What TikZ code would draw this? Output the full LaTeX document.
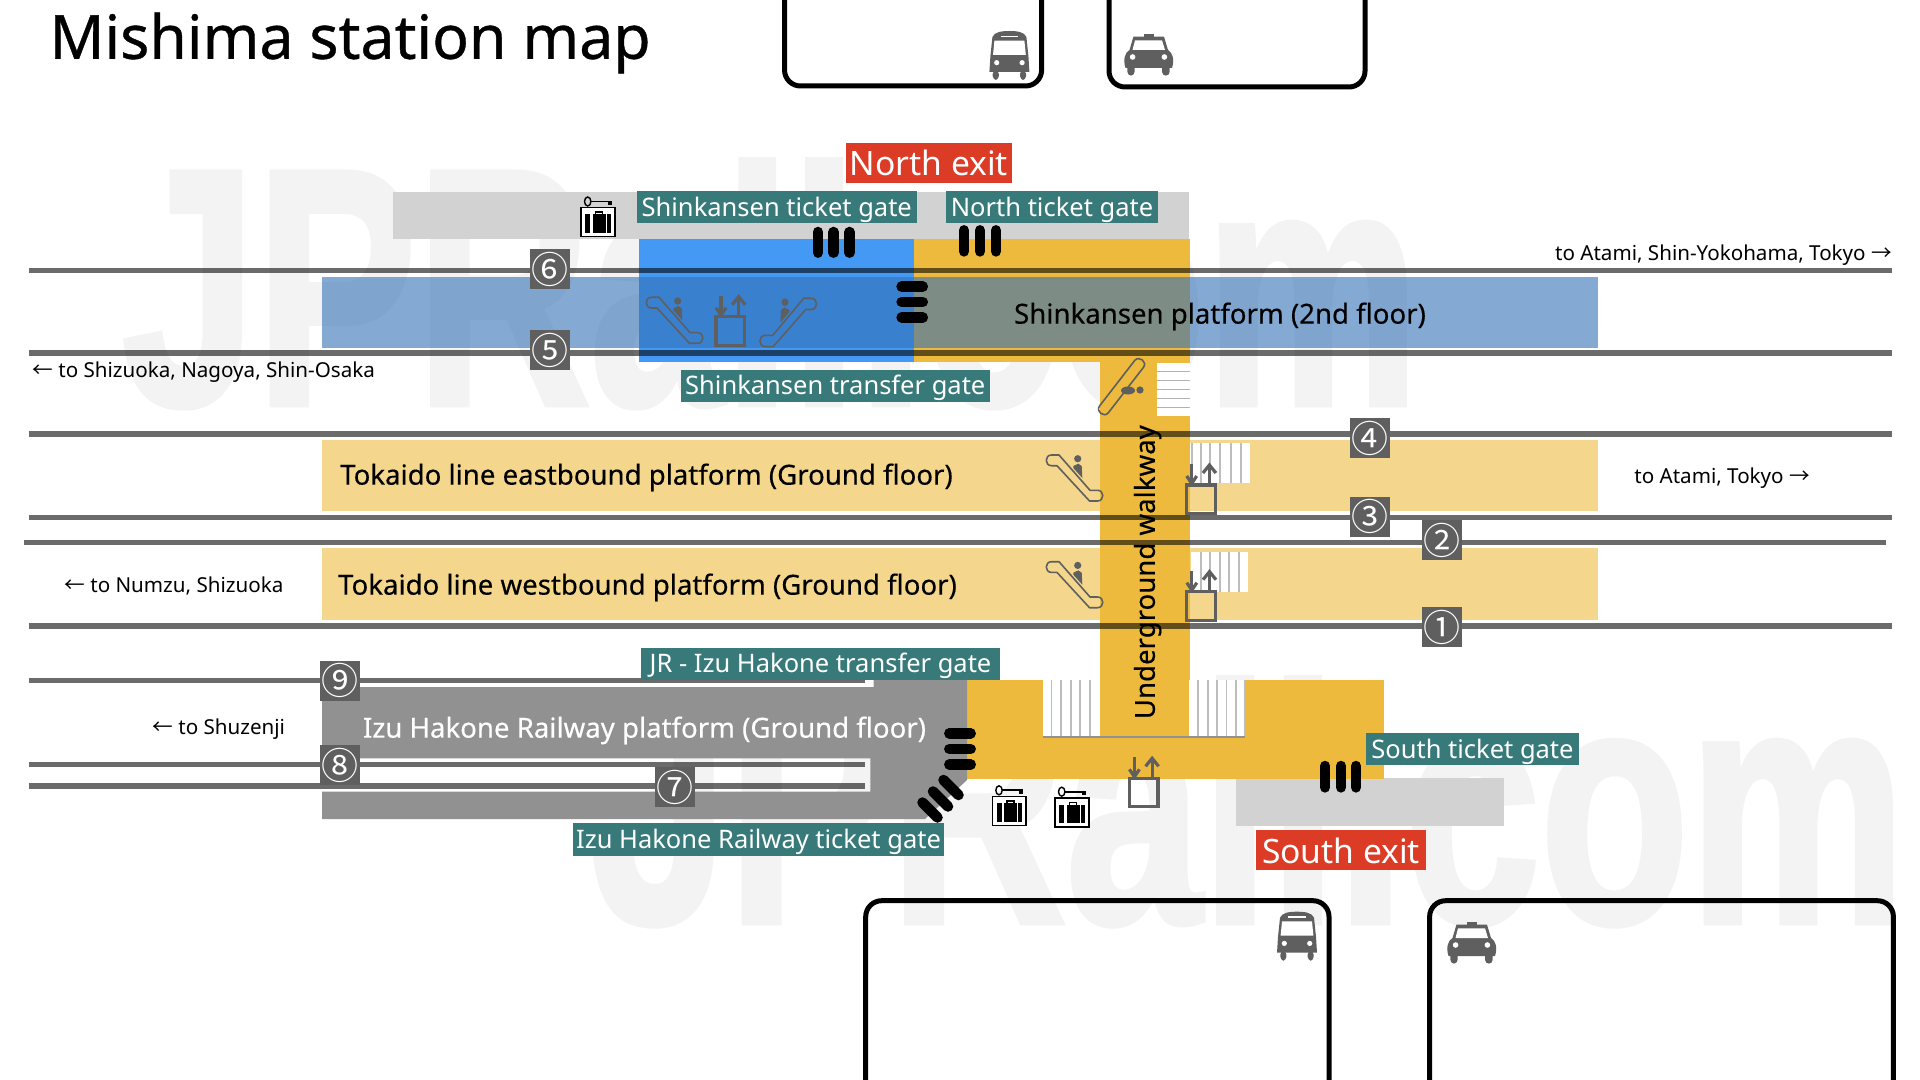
\documentclass[tikz,border=0pt]{standalone}
\usepackage{fontspec}
\setmainfont{Noto Sans}
\newfontfamily\medfont{Noto Sans}[FakeBold=0.35]
\newfontfamily\titlefont{Noto Sans}[FakeBold=0.6]
\newfontfamily\cjk{Noto Sans CJK JP}
\newfontfamily\wmfont{Liberation Sans Bold}[FakeBold=2]
\definecolor{tealc}{HTML}{38797A}
\definecolor{redc}{HTML}{DC3B26}
\definecolor{icon}{HTML}{5F5F5F}
\definecolor{concb}{HTML}{4499F5}
\definecolor{conco}{HTML}{EEBA3D}
\definecolor{platy}{HTML}{F4D78C}
\definecolor{platb}{HTML}{3270B6}
\definecolor{izu}{HTML}{919191}
\definecolor{hall}{HTML}{D2D2D2}
\definecolor{wm}{HTML}{F3F3F3}
\tikzset{
  track/.style={draw=black,draw opacity=.58,line width=2.6pt},
  badge/.style={fill=icon,text=white,minimum size=20pt,inner sep=0,font=\cjk\fontsize{18.5}{18.5}\selectfont},
  tagtext/.style={text=white,inner sep=0,yshift=-1.2pt,font=\fontsize{12.75}{14}\selectfont},
  exittext/.style={text=white,inner sep=0,yshift=-.3pt,font=\fontsize{16.8}{18}\selectfont},
  plat/.style={text=black,inner sep=0,yshift=-1.2pt,font=\medfont\fontsize{13.8}{15}\selectfont},
  note/.style={text=black,inner sep=0,yshift=-1pt,font=\fontsize{10.3}{12}\selectfont},
  gate/.style={line width=5.25pt,line cap=round,black},
  iconline/.style={draw=icon,line width=.8pt,line join=round},
  liftline/.style={draw=icon,line width=1.6pt},
  stairv/.style={draw=hall!90!black,line width=.75pt},
  stairh/.style={draw=black!30,line width=.5pt},
  roundbox/.style={draw=black,line width=2.5pt,rounded corners=8pt},
  wmark/.style={anchor=base west,inner sep=0,text=wm,font=\wmfont\fontsize{168}{170}\selectfont},
}
\newcommand{\myescal}[3]{\begin{scope}[shift={(#1,#2)},#3]
  \draw[iconline] (5.5,0) -- (13,0) -- (44,35.3) -- (51.5,35.3)
    .. controls (58.5,35.3) and (58.5,46) .. (51.5,46) -- (43.5,46) -- (11,10.7) -- (5.5,10.7)
    .. controls (-1.5,10.7) and (-1.5,0) .. (5.5,0) -- cycle;
  \fill[icon] (31.7,3.7) circle[radius=3.6];
  \fill[icon] (27.3,11) -- (32.3,8.7) -- (35.7,11) -- (36.3,23) -- (27.3,13) -- cycle;
\end{scope}}
\newcommand{\mylift}[2]{\begin{scope}[shift={(#1,#2)}]
  \draw[liftline] (0,0) rectangle (28.5,28.5);
  \draw[liftline] (5,-21) -- (5,-2);
  \draw[liftline,line join=miter] (0,-9) -- (5,-1.5) -- (10,-9);
  \draw[liftline] (22.7,0) -- (22.7,-19);
  \draw[liftline,line join=miter] (16.2,-12) -- (22.7,-20) -- (29.2,-12);
\end{scope}}
\newcommand{\mylocker}[2]{\begin{scope}[shift={(#1,#2)}]
  \draw[black,line width=.8pt,fill=white] (0,0) rectangle (33.7,29);
  \fill[black] (4.3,7) rectangle (9.4,25.7);
  \fill[black] (11.5,7) rectangle (24.6,25.7);
  \fill[black] (26,7) rectangle (30,25.7);
  \draw[black,line width=.7pt] (14.5,7) -- (14.5,4.7) -- (21.5,4.7) -- (21.5,7);
  \draw[black,line width=.7pt] (6.7,-6) ellipse[x radius=3.2,y radius=4.5];
  \draw[black,line width=.9pt] (10,-6) -- (31,-6);
  \fill[black] (27,-6) rectangle (31,-2.5);
\end{scope}}
\newcommand{\mybus}[2]{\begin{scope}[shift={(#1,#2)}]
  \fill[icon] (3,6) .. controls (5,1) and (12,0) .. (20,0) .. controls (28,0) and (35,1) .. (37,6)
    -- (39,25) -- (40,41) -- (0,41) -- (1,25) -- cycle;
  \fill[icon,rounded corners=2pt] (3.3,39) rectangle (9.4,49);
  \fill[icon,rounded corners=2pt] (30.6,39) rectangle (36.7,49);
  \fill[white] (5,9.7) -- (35,9.7) -- (36.4,24) -- (3.6,24) -- cycle;
  \fill[white] (11.4,4.7) rectangle (29,6.5);
  \fill[white] (7.3,31.7) circle[radius=2.6];
  \fill[white] (32.7,31.7) circle[radius=2.6];
\end{scope}}
\newcommand{\mytaxi}[2]{\begin{scope}[shift={(#1,#2)}]
  \fill[icon] (19.6,0) rectangle (29.8,3);
  \fill[icon] (9.4,2.7) -- (40,2.7) -- (44,16) .. controls (49,19) and (50.5,26) .. (48,34)
     -- (1.5,34) .. controls (-1,26) and (0.5,19) .. (5.5,16) -- cycle;
  \fill[icon,rounded corners=2pt] (3.3,30) rectangle (10.6,41.7);
  \fill[icon,rounded corners=2pt] (38,30) rectangle (45.7,41.7);
  \fill[white] (11,6.3) -- (38,6.3) -- (41,16) -- (8.5,16) -- cycle;
  \fill[white] (8.6,23) circle[radius=2.8];
  \fill[white] (40.4,23) circle[radius=2.8];
\end{scope}}
\begin{document}
\begin{tikzpicture}[x=0.5pt,y=-0.5pt]
\clip (0,0) rectangle (1920,1080);
\fill[white] (0,0) rectangle (1920,1080);
% watermarks
\node[wmark,xscale=.716] (wmtop) at (122,404) {JPRail.com};
\node[wmark,xscale=.725] (wmbot) at (592,922) {JPRail.com};
% road boxes
\draw[roundbox] (784.5,-30) rectangle (1041.6,86);
\draw[roundbox] (1109,-30) rectangle (1365,87);
\draw[roundbox] (865.7,900.7) rectangle (1329,1130);
\draw[roundbox] (1429.6,900.7) rectangle (1893.4,1130);
\mybus{989.4}{31}
\mytaxi{1124}{34}
\mybus{1277}{911.7}
\mytaxi{1447}{922}
% halls
\fill[hall] (393,192) rectangle (1189,239);
\fill[hall] (1236,777.7) rectangle (1504,825.7);
% platforms (ground)
\fill[platy] (322,440) rectangle (1598,511.3);
\fill[platy] (322,548) rectangle (1598,620);
% concourses
\fill[concb] (639,239) rectangle (914,361.7);
\fill[conco] (914,239) rectangle (1190,361.7);
\fill[conco] (1100,361) rectangle (1190,680);
\fill[conco] (967,679.5) rectangle (1384,779);
% Izu platform
\fill[izu] (322,687) -- (873.5,687) -- (873.5,679.5) -- (967,679.5) -- (967,780) -- (925,819) -- (322,819)
   -- (322,791.7) -- (870.4,791.7) -- (870.4,758.3) -- (322,758.3) -- cycle;
% stairs
\fill[white] (1157,362.7) rectangle (1190,416);
\foreach \y in {371.3,380.3,389.3,398.3,407.3} \draw[stairh] (1157,\y) -- (1190,\y);
\fill[white] (1190,443) rectangle (1250,482.7);
\foreach \x in {1192,1201,1210,1220,1231,1241} \draw[stairv] (\x,443) -- (\x,482.7);
\fill[white] (1191,552) rectangle (1248,591.7);
\foreach \x in {1201,1210,1220,1229,1239} \draw[stairv] (\x,552) -- (\x,591.7);
\fill[white] (1043,680) rectangle (1100,736.7);
\foreach \x in {1051.7,1061,1071,1080,1090} \draw[stairv] (\x,680) -- (\x,736.7);
\fill[white] (1189,680) rectangle (1245,736.7);
\foreach \x in {1198,1208,1217,1226.5,1236,1245} \draw[stairv] (\x,680) -- (\x,736.7);
\draw[draw=izu,line width=1pt] (1043,737) -- (1245,737);
% Shinkansen platform
\fill[platb,fill opacity=.6] (322,276.7) rectangle (1598,348);
% tracks
\draw[track] (29,270.7) -- (1892,270.7);
\draw[track] (29,353) -- (1892,353);
\draw[track] (29,434) -- (1892,434);
\draw[track] (29,517.3) -- (1892,517.3);
\draw[track] (24,542.7) -- (1886,542.7);
\draw[track] (29,626) -- (1892,626);
\draw[track] (29,680.7) -- (865,680.7);
\draw[track] (29,764.7) -- (865,764.7);
\draw[track] (29,786) -- (865,786);
% escalators and lifts
\myescal{646}{297.3}{}
\myescal{816.7}{298.3}{xscale=-1,yscale=1.05}
\myescal{1046}{455}{}
\myescal{1046}{561.7}{}
\draw[iconline] (1108.4,412.7) -- (1143.4,367.4) .. controls (1147.7,361.9) and (1138.9,355.1) .. (1134.6,360.6)
   -- (1099.6,405.9) .. controls (1095.3,411.4) and (1104.1,418.2) .. (1108.4,412.7) -- cycle;
\fill[icon] (1140,390) circle[radius=3.6];
\fill[icon] (1128,390.5) ellipse[x radius=7,y radius=4];
\mylift{716}{316.7}
\mylift{1186.7}{485}
\mylift{1186.8}{591.7}
\mylift{1129.4}{778.3}
% lockers
\mylocker{581}{207.5}
\mylocker{992.3}{796.3}
\mylocker{1055}{797.7}
% gates
\foreach \x in {818,833.5,849.5} \draw[gate] (\x,232) -- (\x,252.7);
\foreach \x in {964,980,996} \draw[gate] (\x,230.3) -- (\x,251.4);
\foreach \y in {286.7,302,317.5} \draw[gate] (901.6,\y) -- (922.8,\y);
\foreach \x in {1325,1341,1356} \draw[gate] (\x,766) -- (\x,787.4);
\foreach \y in {733.3,749,764.5} \draw[gate] (949.3,\y) -- (970.7,\y);
\draw[gate] (943.5,780) -- (958.5,795);
\draw[gate] (933,791.5) -- (948,806.5);
\draw[gate] (922.5,802.5) -- (937.5,817.5);
% badges
\node[badge] (p1) at (1442,627) {①};
\node[badge] (p2) at (1442,540) {②};
\node[badge] (p3) at (1370,516.7) {③};
\node[badge] (p4) at (1370,438) {④};
\node[badge] (p5) at (550,350) {⑤};
\node[badge] (p6) at (550,269) {⑥};
\node[badge] (p7) at (674.5,787) {⑦};
\node[badge] (p8) at (339.5,765) {⑧};
\node[badge] (p9) at (339.5,680.7) {⑨};
% tags
\path[fill=tealc] (637,191.3) rectangle node[tagtext] (t1) {Shinkansen ticket gate} (916.5,223.3);
\path[fill=tealc] (946,191.3) rectangle node[tagtext] (t2) {North ticket gate} (1158,223.3);
\path[fill=tealc] (680.8,370) rectangle node[tagtext] (t3) {Shinkansen transfer gate} (989.7,401.7);
\path[fill=tealc] (641,647.7) rectangle node[tagtext] (t4) {JR - Izu Hakone transfer gate} (1000,679.7);
\path[fill=tealc] (573,823.3) rectangle node[tagtext] (t5) {Izu Hakone Railway ticket gate} (944,855.7);
\path[fill=tealc] (1365.5,733) rectangle node[tagtext] (t6) {South ticket gate} (1579.4,765);
\path[fill=redc] (845.5,142.7) rectangle node[exittext] (n) {North exit} (1012,182.7);
\path[fill=redc] (1256.4,830) rectangle node[exittext] (s) {South exit} (1425.6,870);
% texts
\node[anchor=west,inner sep=0,text=black,font=\titlefont\fontsize{30.4}{32}\selectfont] (title) at (49,43) {Mishima station map};
\node[plat] (l1) at (1220,314) {Shinkansen platform (2nd floor)};
\node[plat] (l2) at (646.5,475) {Tokaido line eastbound platform (Ground floor)};
\node[plat] (l3) at (647.5,585) {Tokaido line westbound platform (Ground floor)};
\node[plat,text=white] (l4) at (644.5,728) {Izu Hakone Railway platform (Ground floor)};
\node[plat,rotate=90,yshift=1.2pt,xshift=.6pt] (l5) at (1150,571) {Underground walkway};
\node[note,anchor=east] (d1) at (1892,253.5) {to Atami, Shin-Yokohama, Tokyo {\cjk →}};
\node[note,anchor=west] (d2) at (32,370) {{\cjk ←} to Shizuoka, Nagoya, Shin-Osaka};
\node[note,anchor=east] (d3) at (1810,476) {to Atami, Tokyo {\cjk →}};
\node[note,anchor=west] (d4) at (64,584) {{\cjk ←} to Numzu, Shizuoka};
\node[note,anchor=west] (d5) at (152,727) {{\cjk ←} to Shuzenji};
\end{tikzpicture}
\end{document}
